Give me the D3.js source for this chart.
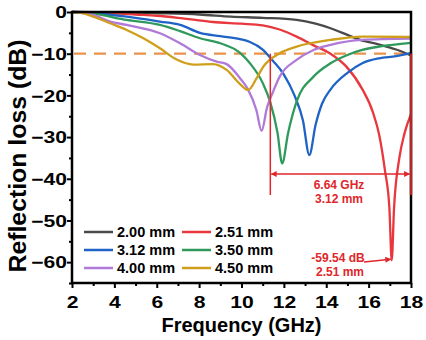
<!DOCTYPE html>
<html>
<head>
<meta charset="utf-8">
<script src="https://cdn.jsdelivr.net/npm/d3@7/dist/d3.min.js"></script>
<style>
  html, body { margin: 0; padding: 0; background: #fff; }
  svg { display: block; font-family: "Liberation Sans", Arial, sans-serif; font-weight: bold; }
</style>
</head>
<body>
<svg id="chart" width="426" height="340"></svg>
<script>
// Reflection loss (dB) vs frequency (GHz) for several absorber thicknesses
const seriesNames = ["2.00 mm", "2.51 mm", "3.12 mm", "3.50 mm", "4.00 mm", "4.50 mm"];
const seriesColors = ["#4a4a4a", "#e8383d", "#1f63c6", "#2f9a5c", "#b07ad8", "#cf9f1c"];

const freq200 = [2, 4, 6, 8, 9.5, 11, 12.6, 13.5, 14.2, 15, 15.6, 16.5, 17.3, 18];
const rl200   = [0, -0.1, -0.3, -0.6, -1.1, -1.4, -1.9, -2.8, -3.9, -5.5, -6.7, -7.8, -9.0, -10.4];

const freq251 = [2, 3, 4, 5, 6, 7, 8, 8.65, 10, 11, 11.8, 12.6, 13.4, 14.2, 14.95, 15.7, 16.2, 16.5, 16.77, 16.98, 17.09, 17.2, 17.45, 17.7, 18];
const rl251   = [0, -0.1, -0.3, -0.6, -0.9, -1.4, -2.0, -2.4, -2.8, -3.2, -4.2, -5.9, -8.0, -10.0, -13.1, -18.5, -24.0, -29.5, -38.0, -47.0, -59.54, -47.0, -35.0, -29.0, -24.5];

const freq312 = [2, 3, 4.58, 6.15, 7.1, 8.04, 9.0, 9.93, 10.4, 11, 11.5, 12, 12.5, 12.9, 13.2, 13.5, 13.8, 14.2, 15, 15.7, 16.5, 17.3, 18];
const rl312   = [0, -0.3, -1.1, -2.3, -3.1, -5.0, -5.8, -6.5, -7.2, -9.0, -11.8, -15.0, -20.0, -26.0, -34.3, -27.0, -22.0, -18.6, -14.6, -12.3, -11.1, -10.6, -9.8];

const freq350 = [2, 3, 4.58, 6.15, 7.1, 8.04, 9.0, 9.93, 10.4, 11, 11.35, 11.7, 11.92, 12.2, 12.6, 13.4, 14.2, 15, 15.7, 16.5, 18];
const rl350   = [0, -0.4, -1.9, -3.1, -4.6, -6.3, -7.5, -9.8, -12.3, -17.0, -21.5, -29.0, -36.3, -29.0, -21.5, -15.5, -12.3, -10.3, -9.1, -8.3, -7.4];

const freq400 = [2, 3, 3.8, 4.58, 6.15, 7.1, 8.04, 8.83, 9.3, 9.93, 10.3, 10.7, 10.95, 11.2, 11.5, 11.8, 12.6, 13.4, 14.2, 15.7, 18];
const rl400   = [0, -0.7, -2.3, -3.1, -5.1, -7.5, -10.3, -11.9, -12.5, -15.9, -18.5, -23.5, -28.5, -23.0, -19.0, -15.5, -11.5, -9.1, -7.9, -6.7, -6.4];

const freq450 = [2, 2.5, 3, 3.8, 4.58, 5.37, 6.15, 6.94, 7.72, 8.65, 9.3, 9.93, 10.32, 10.7, 11.03, 11.8, 12.6, 14.2, 15.7, 18];
const rl450   = [0, -0.3, -1.1, -2.7, -4.3, -6.3, -8.7, -11.4, -12.6, -12.5, -13.9, -17.3, -18.7, -16.0, -13.1, -9.9, -8.3, -6.7, -5.9, -6.0];

const seriesFreqs = [freq200, freq251, freq312, freq350, freq400, freq450];
const seriesRL = [rl200, rl251, rl312, rl350, rl400, rl450];

const xTicks = [2, 4, 6, 8, 10, 12, 14, 16, 18];
const yTicks = [0, -10, -20, -30, -40, -50, -60];
const threshold = -10;

// effective bandwidth of the 3.12 mm layer and the strongest absorption peak
const bandStart = 11.36, bandEnd = 18, bandWidth = 6.64, bandLabel = "3.12 mm";
const peakFreq = 17.09, peakRL = -59.54, peakLabel = "2.51 mm";

const W = 426, H = 340;
const margin = { left: 72, top: 12, right: 15, bottom: 57 };
const svg = d3.select("#chart");

const x = d3.scaleLinear().domain([2, 18]).range([margin.left, W - margin.right]);
const y = d3.scaleLinear().domain([-65, 0]).range([H - margin.bottom, margin.top]);

const red = "#e0262b";

// -10 dB reference line
svg.append("line")
  .attr("x1", x(2) + 2).attr("x2", x(17.85))
  .attr("y1", y(threshold)).attr("y2", y(threshold))
  .attr("stroke", "#e8944c").attr("stroke-width", 2.2)
  .attr("stroke-dasharray", "12,8");

// curves
const line = d3.line().curve(d3.curveMonotoneX)
  .x(d => x(d[0])).y(d => y(d[1]));

seriesNames.forEach((name, i) => {
  const pts = seriesFreqs[i].map((f, j) => [f, seriesRL[i][j]]);
  svg.append("path")
    .datum(pts)
    .attr("d", line)
    .attr("fill", "none")
    .attr("stroke", seriesColors[i])
    .attr("stroke-width", 2.3)
    .attr("stroke-linejoin", "round");
});

// frame
svg.append("rect")
  .attr("x", x(2)).attr("y", y(0))
  .attr("width", x(18) - x(2)).attr("height", y(-65) - y(0))
  .attr("fill", "none").attr("stroke", "#000").attr("stroke-width", 2.5);

// axes
const tickScaleX = 1.28;
const xAxis = svg.append("g")
  .attr("transform", `translate(0,${y(-65)})`)
  .call(d3.axisBottom(x).tickValues(xTicks).tickSize(5).tickSizeOuter(0).tickFormat(d3.format("d")));
const xMinor = svg.append("g")
  .attr("transform", `translate(0,${y(-65)})`)
  .call(d3.axisBottom(x).tickValues(d3.range(3, 18, 2)).tickSize(3).tickSizeOuter(0).tickFormat(""));

const yAxis = svg.append("g")
  .attr("transform", `translate(${x(2)},0)`)
  .call(d3.axisLeft(y).tickValues(yTicks).tickSize(5).tickSizeOuter(0).tickFormat(d3.format("d")));
const yMinor = svg.append("g")
  .attr("transform", `translate(${x(2)},0)`)
  .call(d3.axisLeft(y).tickValues(d3.range(-5, -66, -10)).tickSize(3).tickSizeOuter(0).tickFormat(""));

[xAxis, xMinor, yAxis, yMinor].forEach(g => {
  g.select(".domain").remove();
  g.selectAll(".tick line").attr("stroke", "#000").attr("stroke-width", 2);
});

xAxis.selectAll(".tick text")
  .attr("y", null).attr("dy", null)
  .attr("transform", `translate(0,25) scale(${tickScaleX},1)`)
  .attr("fill", "#000")
  .style("font-size", "16.5px").style("font-weight", "bold")
  .style("font-family", "'Liberation Sans', Arial, sans-serif");

yAxis.selectAll(".tick text")
  .attr("x", null).attr("dy", "0.35em")
  .attr("transform", `translate(-5,0) scale(${tickScaleX},1)`)
  .attr("fill", "#000")
  .style("font-size", "16.5px").style("font-weight", "bold")
  .style("font-family", "'Liberation Sans', Arial, sans-serif");

// axis titles
svg.append("text")
  .attr("x", (x(2) + x(18)) / 2).attr("y", 332)
  .attr("text-anchor", "middle")
  .style("font-size", "20px")
  .text("Frequency (GHz)");

svg.append("text")
  .attr("transform", `translate(26,156) rotate(-90) scale(1.08,1)`)
  .attr("text-anchor", "middle")
  .style("font-size", "23px")
  .text("Reflection loss (dB)");

// legend: two columns, three rows
const legend = svg.append("g");
seriesNames.forEach((name, i) => {
  const col = i % 2, row = Math.floor(i / 2);
  const lx = col === 0 ? 84 : 182;
  const ly = 232 + row * 18;
  legend.append("line")
    .attr("x1", lx).attr("x2", lx + 29)
    .attr("y1", ly).attr("y2", ly)
    .attr("stroke", seriesColors[i]).attr("stroke-width", 2.5);
  legend.append("text")
    .attr("x", lx + 33).attr("y", ly).attr("dy", "0.36em")
    .style("font-size", "14.5px")
    .text(name);
});

// bandwidth annotation
const ann = svg.append("g");
const defs = svg.append("defs");
defs.append("marker")
  .attr("id", "arrowHead")
  .attr("viewBox", "0 0 10 10")
  .attr("refX", 9).attr("refY", 5)
  .attr("markerWidth", 8).attr("markerHeight", 6)
  .attr("markerUnits", "userSpaceOnUse")
  .attr("orient", "auto-start-reverse")
  .append("path").attr("d", "M0,0 L10,5 L0,10 z").attr("fill", red);

const bandBottom = 195, arrowY = 174;
ann.append("line")
  .attr("x1", x(bandStart)).attr("x2", x(bandStart))
  .attr("y1", y(threshold)).attr("y2", bandBottom)
  .attr("stroke", red).attr("stroke-width", 1.5);
ann.append("line")
  .attr("x1", x(bandEnd)).attr("x2", x(bandEnd))
  .attr("y1", y(threshold)).attr("y2", bandBottom)
  .attr("stroke", "#b3272b").attr("stroke-width", 2.5);
ann.append("line")
  .attr("x1", x(bandStart) + 1).attr("x2", x(bandEnd) - 1.5)
  .attr("y1", arrowY).attr("y2", arrowY)
  .attr("stroke", red).attr("stroke-width", 1.5)
  .attr("marker-start", "url(#arrowHead)")
  .attr("marker-end", "url(#arrowHead)");
ann.append("text")
  .attr("x", 339).attr("y", 189)
  .attr("text-anchor", "middle").attr("fill", red)
  .style("font-size", "12px")
  .text(`${bandWidth.toFixed(2)} GHz`);
ann.append("text")
  .attr("x", 339).attr("y", 203)
  .attr("text-anchor", "middle").attr("fill", red)
  .style("font-size", "12px")
  .text(bandLabel);

// peak annotation
ann.append("text")
  .attr("x", 338).attr("y", 262)
  .attr("text-anchor", "middle").attr("fill", red)
  .style("font-size", "12px")
  .text(`${peakRL.toFixed(2)} dB`);
ann.append("text")
  .attr("x", 340).attr("y", 276)
  .attr("text-anchor", "middle").attr("fill", red)
  .style("font-size", "12px")
  .text(peakLabel);
ann.append("line")
  .attr("x1", 364).attr("y1", 262)
  .attr("x2", x(peakFreq) - 1).attr("y2", y(peakRL) - 1)
  .attr("stroke", red).attr("stroke-width", 1.3)
  .attr("marker-end", "url(#arrowHead)");
</script>
</body>
</html>
